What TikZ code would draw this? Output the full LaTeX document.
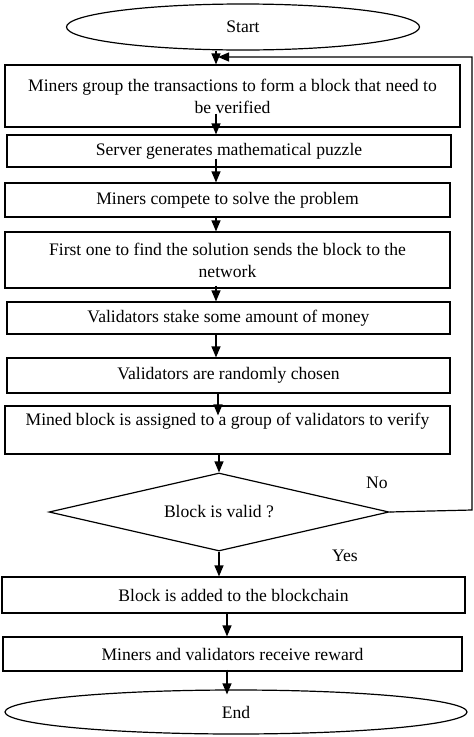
\documentclass[tikz,border=0pt]{standalone}
\usepackage{fontspec}
\setmainfont{Liberation Serif}
\usetikzlibrary{arrows.meta,shapes.geometric}

\begin{document}
\begin{tikzpicture}[x=1pt,y=-1pt,line width=1.2pt,
  txt/.style={font=\fontsize{17.6}{22}\selectfont},
  box/.style={draw,rectangle,inner sep=0pt,align=center,txt},
  oval/.style={draw,ellipse,inner sep=0pt,txt},
  arr/.style={-{Triangle[length=11pt,width=9pt]}}]
  \useasboundingbox (0,0) rectangle (474,737);
  \coordinate (xa) at (216,0);
  \coordinate (xb) at (218,0);
  \coordinate (xd) at (227,0);
  \node[oval,minimum width=353pt,minimum height=46pt] (start) at (243,27) {Start};
  \node[box,minimum width=455pt,minimum height=62pt] (b1) at (232.5,96) {Miners group the transactions to form a block that need to\\be verified};
  \node[box,minimum width=444pt,minimum height=32pt] (b2) at (229,151) {Server generates mathematical puzzle};
  \node[box,minimum width=445pt,minimum height=34pt] (b3) at (227.5,200) {Miners compete to solve the problem};
  \node[box,minimum width=445pt,minimum height=56pt] (b4) at (227.5,260) {First one to find the solution sends the block to the\\network};
  \node[box,minimum width=443pt,minimum height=32pt] (b5) at (228.5,318) {Validators stake some amount of money};
  \node[box,minimum width=443pt,minimum height=35pt] (b6) at (228.5,375.5) {Validators are randomly chosen};
  \node[box,minimum width=445pt,minimum height=48pt] (b7) at (227.5,430) {Mined block is assigned to a group of validators to verify\\\mbox{}};
  \node[draw,diamond,aspect=4.36,inner sep=0pt,minimum width=340pt,minimum height=78pt,txt] (dec) at (219,512) {Block is valid ?};
  \node[box,minimum width=463pt,minimum height=36pt] (b8) at (233.5,595) {Block is added to the blockchain};
  \node[box,minimum width=459pt,minimum height=34pt] (b9) at (232.5,654) {Miners and validators receive reward};
  \node[oval,minimum width=462pt,minimum height=44pt] (end) at (236,712) {End};
  \node[txt] (no) at (377,483) {No};
  \node[txt] (yes) at (345,556) {Yes};
  \coordinate (fb1) at (472,510);
  \coordinate (fb2) at (472,57);
  \coordinate (fb3) at (218,57);
  \draw[arr] (start.south -| xa) -- (b1.north -| xa);
  \draw[arr] ([yshift=14pt]b1.south -| xa) -- (b2.north -| xa);
  \draw[arr] ([yshift=9pt]b2.south -| xa) -- (b3.north -| xa);
  \draw[arr] (b3.south -| xa) -- (b4.north -| xa);
  \draw[arr] ([yshift=3pt]b4.south -| xa) -- (b5.north -| xa);
  \draw[arr] (b5.south -| xa) -- (b6.north -| xa);
  \draw[arr] (b6.south -| xb) -- ([yshift=-10pt]b7.north -| xb);
  \draw[arr] (b7.south -| dec.north) -- (dec.north);
  \draw[arr] (dec.south) -- (b8.north -| dec.south);
  \draw[arr] (b8.south -| xd) -- (b9.north -| xd);
  \draw[arr] ([yshift=2pt]b9.south -| xd) -- ([yshift=-5pt]end.north -| xd);
  \draw[arr] (dec.east) -- (fb1) -- (fb2) -- (fb3);
\end{tikzpicture}
\end{document}
